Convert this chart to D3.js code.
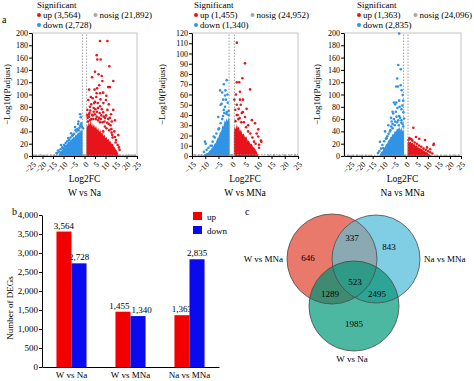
<!DOCTYPE html>
<html><head><meta charset="utf-8">
<script src="https://cdn.jsdelivr.net/npm/d3@7"></script>
<style>body{margin:0;background:#fff}svg{display:block;font-family:"Liberation Serif","Times New Roman",serif}</style>
</head><body><svg id="c" width="474" height="381"></svg>
<script>
// ---------------- DATA ----------------
const comparisons = ["W vs Na", "W vs MNa", "Na vs MNa"];
const upCounts = [3564, 1455, 1363];
const downCounts = [2728, 1340, 2835];
const nosigCounts = [21892, 24952, 24096];

const xTicksWide = [-25, -20, -15, -10, -5, 0, 5, 10, 15, 20, 25];
const xTicksMid = [-15, -10, -5, 0, 5, 10, 15, 20, 25];
const yTicks200 = [0, 20, 40, 60, 80, 100, 120, 140, 160, 180, 200];
const yTicks120 = [0, 10, 20, 30, 40, 50, 60, 70, 80, 90, 100, 110, 120];

// volcano 1 : W vs Na  (log2FC, -log10 padj); "core" = outline of the solid, overplotted mass
const upCore1 = [[0.9,0],[0.9,44],[1.2,52],[1.6,47],[2,56],[2.4,50],[2.8,58],[3.2,49],[3.6,54],[4,47],[4.5,52],[5,45],[5.5,49],[6,42],[6.5,46],[7,39],[7.5,43],[8,36],[8.5,39],[9,32],[9.5,35],[10,29],[10.5,31],[11,26],[11.5,28],[12,23],[12.5,24],[13,19],[13.5,20],[14,15],[14.5,14],[15,10],[15.5,8],[16,4],[16.3,0]];
const upPts1 = [[7.4,187],[10.9,187],[5.8,164],[6.1,157],[7.7,157],[11.8,146],[5.0,137],[6.7,133],[8.2,130],[13.7,122],[11.3,112],[12.1,112],[7.0,115],[5.8,102],[7.4,102],[8.9,103],[3.9,94],[10.2,91],[5.0,88],[2.6,80],[7.4,81],[10.9,75],[13.7,75],[4.4,72],[8.9,71],[5.8,64],[12.1,62],[14.5,58],[2.6,58],[7.4,55],[16.1,34],[14.5,31],[16.7,10],[13.2,34],[10.5,45],[8.9,40],[3.6,67],[1.8,91],[1.3,75],[4.2,60],[6.5,58],[9.5,56],[11.5,52],[2.2,64],[5.2,76],[8.0,66],[3.2,84],[6.3,86],[12.8,44],[15,26],[15.8,18],[1.6,56],[9.8,62],[4.8,108],[2.4,70],
  [1.5,62],[2.0,68],[2.7,74],[3.3,60],[3.9,66],[4.4,78],[4.9,68],[5.4,60],[5.9,72],[6.4,78],[6.9,62],[7.2,70],[7.8,60],[8.3,76],[8.6,55],[9.2,64],[9.7,48],[10.3,66],[10.8,54],[11.3,60],[11.8,42],[12.4,50],[12.9,38],[13.4,30],[14.2,40],[14.8,22],[16.4,14],[3.0,96],[4.6,86],[5.6,96],[7.6,92],[9.0,86],[6.0,110],[2.2,108],[8.5,122],[3.6,128],[10.4,98],[11.6,84],[12.6,68],[13.0,56],[2.9,44],[1.2,66]];
const downCore1 = [[-0.9,0],[-0.9,40],[-1.3,44],[-1.7,39],[-2.1,43],[-2.6,37],[-3.1,39],[-3.6,34],[-4.2,35],[-4.8,30],[-5.4,31],[-6,27],[-6.6,27],[-7.2,23],[-7.8,23],[-8.4,19],[-9,18],[-9.6,14],[-10.2,13],[-10.8,9],[-11.4,8],[-12,4],[-12.5,0]];
const downPts1 = [[-2.1,68],[-1.8,63],[-2.9,56],[-1.5,53],[-4.5,47],[-2.4,46],[-0.7,45],[-6.4,37],[-11.2,18],[-9.3,16],[-7.7,29],[-10.2,13],[-3.4,44],[-5.6,34],[-13.3,5],[-12.6,9],
  [-1.2,47],[-2,49],[-2.8,42],[-3.8,40],[-4.2,42],[-5,36],[-5.8,33],[-6.6,30],[-7.4,26],[-8.2,24],[-9,21],[-9.8,18],[-10.6,14],[-11.4,11],[-12.2,7],[-13,4],[-1.6,50],[-3,52]];
const greyPts1 = [[-24,0.4],[-23,0.2],[-21,0.6],[-19.5,0.3],[-18,0.5],[-16,0.2],[-14.5,0.8],[-13.5,0.5],[-0.5,1],[0.4,0.8],[17,0.6],[18.5,0.3],[20,0.5],[21,0.9],[22,0.4],[23,0.3],[24,0.7]];

// volcano 2 : W vs MNa
const upCore2 = [[0.8,0],[0.8,24],[1.1,29],[1.5,26],[1.9,31],[2.3,27],[2.7,29],[3.1,24],[3.5,26],[4,21],[4.5,22],[5,18],[5.5,19],[6,15],[6.5,15],[7,12],[7.5,12],[8,9],[8.5,8],[9,6],[9.5,4],[10,0]];
const upPts2 = [[1.9,110.6],[5.0,90.4],[4.0,75.8],[6.9,65],[3.1,62.7],[2.8,72],[1.9,72],[1.0,55],[3.1,55],[4.2,55],[1.9,50],[4.2,43],[1.9,40],[5.0,38],[7.6,35],[8.8,32],[10,26],[11,15],[11.2,14],[10.3,11],[10.3,8],[10,19],[2.5,36],[3.6,33],[6.2,30],[1.3,45],[9.4,22],[5.6,46],
  [1.4,34],[2.2,40],[3,37],[3.8,42],[4.6,33],[5.4,28],[6.2,24],[7,22],[7.8,18],[8.4,14],[9,12],[2.6,46],[3.4,50],[1.6,60]];
const downCore2 = [[-0.8,0],[-0.8,34],[-1.1,38],[-1.5,34],[-1.9,37],[-2.3,33],[-2.7,35],[-3.1,29],[-3.5,30],[-4,24],[-4.5,23],[-5,18],[-5.5,17],[-6,13],[-6.5,12],[-7,9],[-7.5,8],[-8,6],[-8.5,5],[-9,3],[-9.5,3],[-10.5,1],[-11,0]];
const downPts2 = [[-1.9,74],[-4.4,64],[-3.6,62],[-2.5,59],[-3.8,51],[-2.5,48],[-3.0,45],[-1.9,43],[-5.1,38],[-6.8,19],[-10.1,14],[-9.8,12],[-7.5,10],[-4.8,27],[-1.5,52],[-2.2,55],[-1.2,40],[-3.3,39],
  [-1.2,44],[-2,41],[-2.8,42],[-3.6,36],[-4.2,32],[-5,26],[-5.8,22],[-6.4,18],[-7.2,14],[-8,10],[-8.8,8],[-9.5,6],[-10.5,4],[-3.2,55],[-2.4,64],[-4.2,50],[-1.6,60],[-3,70]];
const greyPts2 = [[-14,0.4],[-12.5,0.2],[-11.5,0.5],[-0.4,0.8],[0.3,0.5],[14,0.3],[16,0.6],[18,0.2],[20,0.5],[22,0.3],[24,0.5]];

// volcano 3 : Na vs MNa
const upCore3 = [[0.8,0],[0.8,21],[1.2,25],[1.6,22],[2,24],[2.5,21],[3,22],[3.5,19],[4,19],[4.5,16],[5,17],[5.5,14],[6,14],[6.5,12],[7,12],[7.5,10],[8,9],[8.5,8],[9,7],[9.5,6],[10,5],[10.5,3],[11,2],[11.5,0]];
const upPts3 = [[3.4,46],[4.6,31],[1.6,29],[6.1,28],[8.7,26],[12.5,18],[12.7,20],[11,11],[2.6,27],[9.6,14],
  [1.2,26],[2,28],[3,25],[4,22],[5,20],[6,17],[7,15],[8,12],[9,10],[10,8],[11,6],[12,4]];
const downCore3 = [[-0.8,0],[-0.8,38],[-1.2,44],[-1.6,40],[-2,47],[-2.5,42],[-3,48],[-3.5,43],[-4,45],[-4.5,39],[-5,41],[-5.5,35],[-6,36],[-6.5,31],[-7,31],[-7.5,26],[-8,25],[-8.5,20],[-9,19],[-9.5,14],[-10,13],[-10.5,8],[-11,7],[-11.5,4],[-12,0]];
const downPts3 = [[-3,199],[-3.4,148],[-2.3,141],[-3.9,126],[-2.3,115],[-4.3,113],[-3.6,113],[-1.9,107],[-1.4,99],[-5.4,87],[-4.3,87],[-2.8,80],[-1.1,71],[-5.7,69],[-4.5,72],[-6.7,62],[-0.8,61],[-6.4,56],[-7.9,50],[-9.4,40],[-8.7,29],[-11.7,23],[-10.2,12.5],[-3,65],[-2,58],[-4,55],[-5,50],[-1.5,52],[-6,45],[-3.2,50],[-7,42],
  [-1.2,48],[-2,54],[-2.6,62],[-3.4,58],[-4.2,64],[-4.8,56],[-5.4,60],[-6,52],[-6.6,48],[-7.2,40],[-7.8,36],[-8.4,32],[-9,28],[-9.8,24],[-10.6,18],[-11.2,12],[-12,8],[-12.6,5],[-1.6,82],[-3,90],[-2,76],[-3.8,78],[-4.8,84],[-1.2,90],[-6,72]];
const greyPts3 = [[-26,0.4],[-24,0.3],[-22,0.6],[-20,0.2],[-18,0.5],[-16,0.3],[-0.3,0.6],[14,0.4],[16,0.2],[18,0.5],[20,0.3],[22,0.6],[24,0.4]];

// bar chart
const barTicks = [0, 500, 1000, 1500, 2000, 2500, 3000, 3500, 4000];
const barSeries = ["up", "down"];

// venn
const vennSets = ["W vs MNa", "Na vs MNa", "W vs Na"];
const vennOnly = [646, 843, 1985];       // A only, B only, C only
const vennAB = 337, vennAC = 1289, vennBC = 2495, vennABC = 523;

// ---------------- DRAW ----------------
const svg = d3.select("#c");
svg.append("rect").attr("width", 474).attr("height", 381).attr("fill", "#fff");
const RED = "#e8141c", BLUE = "#2f93e6", GREY = "#a8a8a8";
const fmt = d3.format(",");

const layouts = [
  {l: 32,  r: 137, t: 33, b: 156, xd: [-25, 25], ym: 200, xt: xTicksWide, yt: yTicks200, lx: 37,  ylx: 10},
  {l: 192, r: 298, t: 33, b: 156, xd: [-15, 25], ym: 120, xt: xTicksMid,  yt: yTicks120, lx: 194, ylx: 165},
  {l: 344, r: 461, t: 33, b: 156, xd: [-28, 25], ym: 200, xt: xTicksWide, yt: yTicks200, lx: 357, ylx: 320}
];
const volcData = [
  {uc: upCore1, up: upPts1, dc: downCore1, dn: downPts1, gr: greyPts1},
  {uc: upCore2, up: upPts2, dc: downCore2, dn: downPts2, gr: greyPts2},
  {uc: upCore3, up: upPts3, dc: downCore3, dn: downPts3, gr: greyPts3}
];

layouts.forEach((L, i) => {
  const D = volcData[i];
  const x = d3.scaleLinear().domain(L.xd).range([L.l, L.r]);
  const y = d3.scaleLinear().domain([0, L.ym]).range([L.b, L.t]);
  const g = svg.append("g");
  g.append("rect").attr("x", L.l).attr("y", L.t).attr("width", L.r - L.l).attr("height", L.b - L.t)
    .attr("fill", "none").attr("stroke", "#c4c4c4").attr("stroke-width", 1);
  const area = d3.area().x(d => x(d[0])).y0(y(0)).y1(d => y(d[1]));
  g.append("path").datum(D.uc).attr("d", area).attr("fill", RED);
  g.append("path").datum(D.dc).attr("d", area).attr("fill", BLUE);
  const dots = (arr, col) => g.append("g").selectAll("circle").data(arr).join("circle")
    .attr("cx", d => x(d[0])).attr("cy", d => y(d[1])).attr("r", 1.3).attr("fill", col);
  dots(D.gr, GREY); dots(D.up, RED); dots(D.dn, BLUE);
  // thresholds
  const th = g.append("g").attr("stroke", "#8a8a8a").attr("stroke-width", 0.8).attr("stroke-dasharray", "1.5,1.5");
  [-1, 1].forEach(v => th.append("line").attr("x1", x(v)).attr("x2", x(v)).attr("y1", y(0)).attr("y2", y(L.ym)));
  th.append("line").attr("x1", L.l).attr("x2", L.r).attr("y1", y(1.3)).attr("y2", y(1.3));
  // axes
  const ya = g.append("g").attr("transform", `translate(${L.l},0)`)
    .call(d3.axisLeft(y).tickValues(L.yt).tickSize(3).tickPadding(1).tickSizeOuter(0));
  ya.selectAll("text").attr("font-size", 8).attr("font-family", "Liberation Serif").attr("fill", "#000");
  const xa = g.append("g").attr("transform", `translate(0,${L.b})`)
    .call(d3.axisBottom(x).tickValues(L.xt).tickSize(3).tickSizeOuter(0));
  xa.selectAll("text").attr("font-size", 8).attr("font-family", "Liberation Serif").attr("fill", "#000")
    .attr("x", 0).attr("y", 0).attr("dy", "0.35em").attr("transform", "translate(2,7) rotate(-45)")
    .style("text-anchor", "end");
  [ya, xa].forEach(a => a.select(".domain").attr("stroke", "#000"));
  // labels
  const cx = (L.l + L.r) / 2;
  g.append("text").attr("x", cx).attr("y", 182).attr("text-anchor", "middle").attr("font-size", 9.5).text("Log2FC");
  g.append("text").attr("x", cx).attr("y", 196).attr("text-anchor", "middle").attr("font-size", 9.5).text(comparisons[i]);
  g.append("text").attr("transform", `translate(${L.ylx},${(L.t + L.b) / 2}) rotate(-90)`)
    .attr("text-anchor", "middle").attr("font-size", 9).text("\u2212Log10(Padjust)");
  // legend
  g.append("text").attr("x", L.lx).attr("y", 7.5).attr("font-size", 9).text("Significant");
  const t1 = g.append("text").attr("x", L.lx + 6).attr("y", 18).attr("font-size", 9).text(`up (${fmt(upCounts[i])})`);
  const t2 = g.append("text").attr("x", L.lx + 6).attr("y", 28).attr("font-size", 9).text(`down (${fmt(downCounts[i])})`);
  g.append("circle").attr("cx", L.lx + 2).attr("cy", 15).attr("r", 2).attr("fill", RED);
  g.append("circle").attr("cx", L.lx + 2).attr("cy", 25).attr("r", 2).attr("fill", BLUE);
  const w = Math.max(t1.node().getComputedTextLength(), t2.node().getComputedTextLength());
  const gx = L.lx + 6 + w + 4;
  g.append("circle").attr("cx", gx).attr("cy", 15).attr("r", 2).attr("fill", GREY);
  g.append("text").attr("x", gx + 4).attr("y", 18).attr("font-size", 9).text(`nosig (${fmt(nosigCounts[i])})`);
});
svg.append("text").attr("x", 2).attr("y", 23).attr("font-size", 10).text("a");

// ---------- bar chart ----------
{
  const yb = d3.scaleLinear().domain([0, 4000]).range([367, 215]);
  const xb = d3.scaleBand().domain(comparisons).range([42, 219]).paddingInner(0.49).paddingOuter(0.245);
  const xs = d3.scaleBand().domain(barSeries).range([0, xb.bandwidth()]);
  const colors = {up: "#f20000", down: "#0a0aee"};
  const g = svg.append("g");
  const rows = comparisons.map((c, i) => ({c, up: upCounts[i], down: downCounts[i]}));
  rows.forEach(r => {
    const labs = barSeries.map(s => {
      g.append("rect").attr("x", xb(r.c) + xs(s)).attr("width", xs.bandwidth())
        .attr("y", yb(r[s])).attr("height", yb(0) - yb(r[s])).attr("fill", colors[s]);
      return g.append("text").attr("x", xb(r.c) + xs(s) + xs.bandwidth() / 2).attr("y", yb(r[s]) - 3)
        .attr("text-anchor", "middle").attr("font-size", 9).text(fmt(r[s]));
    });
    const b0 = labs[0].node().getBBox(), b1 = labs[1].node().getBBox();
    const vOverlap = !(b0.y + b0.height < b1.y || b1.y + b1.height < b0.y);
    const ov = b0.x + b0.width + 1.5 - b1.x;
    if (vOverlap && ov > 0) {
      labs[0].attr("x", +labs[0].attr("x") - ov / 2);
      labs[1].attr("x", +labs[1].attr("x") + ov / 2);
    }
  });
  const ya = g.append("g").attr("transform", "translate(42,0)")
    .call(d3.axisLeft(yb).tickValues(barTicks).tickFormat(fmt).tickSize(3).tickPadding(1).tickSizeOuter(0));
  ya.selectAll("text").attr("font-size", 9).attr("font-family", "Liberation Serif");
  const xa = g.append("g").attr("transform", "translate(0,367)")
    .call(d3.axisBottom(xb).tickSize(0).tickPadding(5).tickSizeOuter(0));
  xa.selectAll("text").attr("font-size", 9).attr("font-family", "Liberation Serif");
  g.append("text").attr("transform", "translate(13,308) rotate(-90)").attr("text-anchor", "middle")
    .attr("font-size", 9).text("Number of DEGs");
  barSeries.forEach((s, k) => {
    g.append("rect").attr("x", 193).attr("y", 212 + k * 14).attr("width", 9).attr("height", 8).attr("fill", colors[s]);
    g.append("text").attr("x", 207).attr("y", 219.5 + k * 14).attr("font-size", 9).text(s);
  });
  svg.append("text").attr("x", 12).attr("y", 215).attr("font-size", 10).text("b");
}

// ---------- venn ----------
{
  const circles = [{cx: 332, cy: 259, r: 45}, {cx: 376, cy: 259, r: 44}, {cx: 354, cy: 306, r: 45}];
  const base = ["#e9796b", "#80cee3", "#4db8a2"];
  const defs = svg.append("defs");
  circles.forEach((c, i) => defs.append("clipPath").attr("id", "vc" + i)
    .append("circle").attr("cx", c.cx).attr("cy", c.cy).attr("r", c.r));
  const g = svg.append("g");
  const circ = (p, c, fill) => p.append("circle").attr("cx", c.cx).attr("cy", c.cy).attr("r", c.r).attr("fill", fill);
  circles.forEach((c, i) => circ(g, c, base[i]));
  circ(g.append("g").attr("clip-path", "url(#vc0)"), circles[1], "#8aa9b3");
  circ(g.append("g").attr("clip-path", "url(#vc0)"), circles[2], "#3f8b72");
  circ(g.append("g").attr("clip-path", "url(#vc1)"), circles[2], "#2ca596");
  circ(g.append("g").attr("clip-path", "url(#vc0)").append("g").attr("clip-path", "url(#vc1)"), circles[2], "#2f9a87");
  circles.forEach(c => g.append("circle").attr("cx", c.cx).attr("cy", c.cy).attr("r", c.r)
    .attr("fill", "none").attr("stroke", "#4a4a4a").attr("stroke-width", 0.8));
  const nums = [
    [vennOnly[0], 308, 258], [vennOnly[1], 389, 247], [vennOnly[2], 354, 324],
    [vennAB, 352, 238], [vennAC, 330, 294], [vennBC, 377, 294], [vennABC, 355, 282]
  ];
  nums.forEach(n => g.append("text").attr("x", n[1]).attr("y", n[2]).attr("dy", "0.35em")
    .attr("text-anchor", "middle").attr("font-size", 9).text(n[0]));
  g.append("text").attr("x", 283).attr("y", 262).attr("text-anchor", "end").attr("font-size", 9).text(vennSets[0]);
  g.append("text").attr("x", 424).attr("y", 262).attr("font-size", 9).text(vennSets[1]);
  g.append("text").attr("x", 352).attr("y", 362).attr("text-anchor", "middle").attr("font-size", 9).text(vennSets[2]);
  svg.append("text").attr("x", 245).attr("y", 215).attr("font-size", 10).text("c");
}
</script></body></html>
